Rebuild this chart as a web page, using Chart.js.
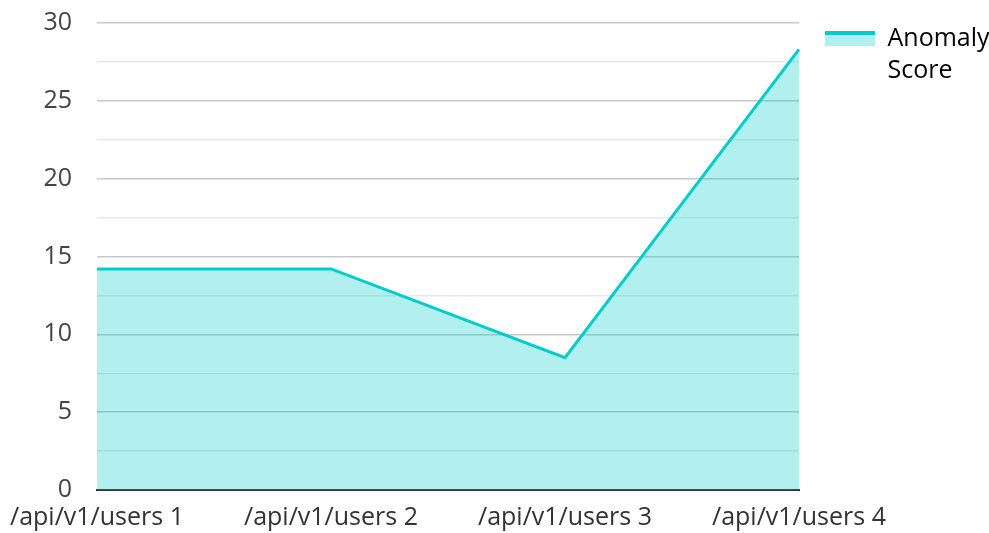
<!DOCTYPE html>
<html>
<head>
<meta charset="utf-8">
<script src="https://cdn.jsdelivr.net/npm/chart.js@4/dist/chart.umd.min.js"></script>
<style>
  html, body { margin: 0; padding: 0; background: #fff; }
  #wrap { width: 989px; height: 533px; }
</style>
</head>
<body>
<div id="wrap"><canvas id="chart"></canvas></div>
<script>
// data
const categories = ['/api/v1/users 1', '/api/v1/users 2', '/api/v1/users 3', '/api/v1/users 4'];
const anomalyScore = [14.2, 14.2, 8.5, 28.3];
const seriesLabel = ['Anomaly', 'Score'];

const lineColor = '#00cccc';
const fillColor = 'rgba(0, 204, 204, 0.3)';

// legend swatch: thick line on top, light fill below
function makeSwatch() {
    const c = document.createElement('canvas');
    c.width = 50; c.height = 15;
    const g = c.getContext('2d');
    g.fillStyle = fillColor;
    g.fillRect(0, 0, 50, 15);
    g.fillStyle = lineColor;
    g.fillRect(0, 0, 50, 4);
    return c;
}
const swatch = makeSwatch();

const ctx = document.getElementById('chart').getContext('2d');
new Chart(ctx, {
    type: 'line',
    data: {
        labels: categories,
        datasets: [{
            label: 'Anomaly Score',
            data: anomalyScore,
            borderColor: lineColor,
            backgroundColor: fillColor,
            borderWidth: 3,
            fill: 'origin',
            tension: 0,
            pointRadius: 0,
            pointHoverRadius: 0
        }]
    },
    options: {
        responsive: true,
        maintainAspectRatio: false,
        animation: false,
        layout: { padding: { top: 0, left: 0, right: 0, bottom: 0 } },
        font: { family: '"Open Sans", "Noto Sans", sans-serif' },
        plugins: {
            tooltip: { enabled: false },
            legend: {
                position: 'right',
                align: 'start',
                maxWidth: 190,
                labels: {
                    color: '#333',
                    font: { family: '"Open Sans", sans-serif', size: 25, lineHeight: 1.28 },
                    usePointStyle: true,
                    pointStyle: swatch,
                    pointStyleWidth: 50,
                    padding: 26,
                    generateLabels: function(chart) {
                        return [{
                            text: seriesLabel,
                            pointStyle: swatch,
                            fillStyle: fillColor,
                            strokeStyle: lineColor,
                            lineWidth: 0,
                            hidden: false,
                            datasetIndex: 0
                        }];
                    }
                }
            }
        },
        scales: {
            x: {
                offset: false,
                afterFit: function(scale) {
                    scale.height = 43;
                    scale.paddingLeft = 97;
                },
                grid: { display: false, drawTicks: false },
                border: { color: '#333', width: 2 },
                ticks: {
                    color: '#333',
                    maxRotation: 0,
                    autoSkip: false,
                    padding: 13,
                    font: { family: '"Open Sans", sans-serif', size: 25, lineHeight: 1.2 }
                }
            },
            y: {
                min: 0,
                max: 30,
                afterFit: function(scale) {
                    scale.paddingTop = 23;
                    scale.paddingBottom = 0;
                },
                grid: {
                    drawTicks: false,
                    color: function(c) {
                        if (c.tick && c.tick.value % 5 === 0) return '#c8c8c8';
                        return '#e8e8e8';
                    },
                    lineWidth: 1.5
                },
                border: { display: false },
                ticks: {
                    stepSize: 2.5,
                    color: '#444',
                    padding: 25,
                    font: { family: '"Open Sans", sans-serif', size: 25 },
                    callback: function(v) { return v % 5 === 0 ? v : ''; }
                }
            }
        }
    }
});
</script>
</body>
</html>
